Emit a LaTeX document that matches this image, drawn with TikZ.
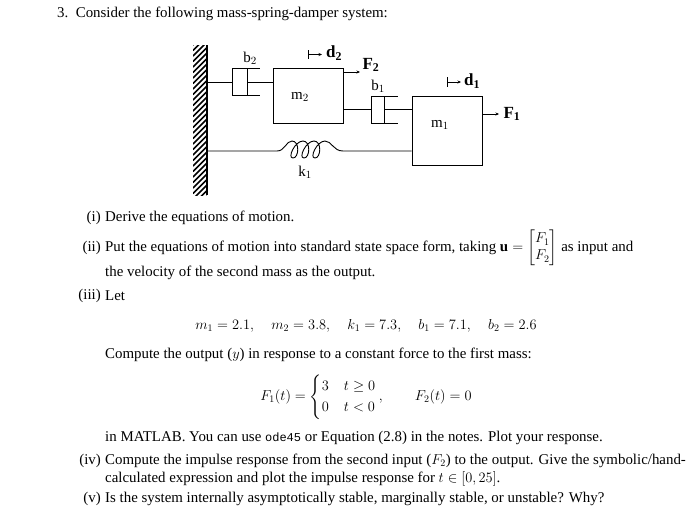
\documentclass[tikz,border=0pt]{standalone}
\usepackage{fontspec}
\setmainfont{Liberation Serif}
\usepackage{amsmath,amssymb}
\usetikzlibrary{arrows.meta}
\begin{document}
\begin{tikzpicture}[x=1pt,y=-1pt,
 ln/.style={line width=0.9pt},
 mass/.style={draw,line width=0.9pt},
 lbl/.style={inner sep=0,font=\fontsize{15}{17}\selectfont},
 txt/.style={anchor=west,inner sep=0,font=\fontsize{14.9}{17}\selectfont},
 num/.style={anchor=east,inner sep=0,font=\fontsize{14.9}{17}\selectfont},
 bl/.style={inner sep=0,font=\bfseries\fontsize{17}{19}\selectfont},
 arr/.style={-{Stealth[length=3.5pt,width=3pt]},line width=0.6pt}]
\useasboundingbox (0,0) rectangle (700,515);
\fill[white] (0,0) rectangle (700,515);
% wall
\begin{scope}
\clip (193,45) rectangle (207,195);
\foreach \i in {0,5.5,...,175} \draw[line width=1.6pt] (193,45+\i) -- (207,31+\i);
\end{scope}
\draw[line width=1.4pt] (207,45) -- (207,195);
\coordinate (w1) at (207,82);
\coordinate (w2) at (207,151);
% masses
\node[mass,minimum width=70,minimum height=55,inner sep=0] (m2) at (308,95.5) {};
\node[lbl] at (300,97) {m$_2$};
\node[mass,minimum width=70,minimum height=69,inner sep=0] (m1) at (447,130.5) {};
\node[lbl] at (440,125) {m$_1$};
% damper b2
\draw[ln] (w1) -- (232,82);
\draw[ln] (232,68) -- (232,95);
\draw[ln] (232,68) -- (260,68) (232,95) -- (260,95);
\draw[ln] (247,68) -- (247,95);
\draw[ln] (247,82) -- (m2.west |- 0,82);
\node[lbl] at (250,58) {b$_2$};
% damper b1
\draw[ln] (m2.east |- 0,109) -- (371,109);
\draw[ln] (371,96) -- (371,123) (371,96) -- (398,96) (371,123) -- (398,123);
\draw[ln] (384,96) -- (384,123);
\draw[ln] (384,109) -- (m1.west |- 0,109);
\node[lbl] at (378,86) {b$_1$};
% spring
\draw[ln] (w2) -- (277,151)
 .. controls (285,151) and (286,141) .. (292,141)
 .. controls (300,141) and (299,158) .. (293,158)
 .. controls (287,158) and (295,141) .. (303,141)
 .. controls (311,141) and (310,158) .. (304,158)
 .. controls (298,158) and (306,141) .. (314,141)
 .. controls (322,141) and (321,158) .. (315,158)
 .. controls (309,158) and (317,141) .. (325,141)
 .. controls (332,141) and (333,151) .. (343,151)
 -- (m1.west |- 0,151);
\node[lbl] at (305,172) {k$_1$};
% displacements and forces
\draw[line width=0.5pt] (308,50) -- (308,59);
\draw[arr] (308,54.5) -- (322,54.5);
\node[bl] at (334,53) {d$_\mathbf{2}$};
\draw[arr] (343,72) -- (360,72);
\node[bl] at (371,65) {F$_\mathbf{2}$};
\draw[line width=0.5pt] (447,77) -- (447,87);
\draw[arr] (447,82) -- (461,82);
\node[bl] at (472,81) {d$_\mathbf{1}$};
\draw[arr] (482,114) -- (499,114);
\node[bl] at (512,114) {F$_\mathbf{1}$};
% text
\node[txt] at (57,14) {3.\ \ Consider the following mass-spring-damper system:};
\node[num] at (101,218) {(i)};
\node[txt] at (105,218) {Derive the equations of motion.};
\node[num] at (101,248) {(ii)};
\node[txt] at (105,248) {Put the equations of motion into standard state space form, taking $\mathbf{u}=\begin{bmatrix}F_1\\F_2\end{bmatrix}$ as input and};
\node[txt] at (105,273) {the velocity of the second mass as the output.};
\node[num] at (101,296) {(iii)};
\node[txt] at (105,296) {Let};
\node[inner sep=0,font=\fontsize{14.9}{17}\selectfont] at (366,326) {$m_1=2.1,\quad m_2=3.8,\quad k_1=7.3,\quad b_1=7.1,\quad b_2=2.6$};
\node[txt] at (105,355) {Compute the output ($y$) in response to a constant force to the first mass:};
\node[inner sep=0,font=\fontsize{14.9}{17}\selectfont] at (366,397) {$F_1(t)=\begin{cases}3 & t\geq 0\\ 0 & t<0\end{cases},\qquad F_2(t)=0$};
\node[txt] at (105,438) {in MATLAB. You can use {\fontspec{Liberation Mono}\fontsize{12}{14}\selectfont ode45} or Equation (2.8) in the notes. Plot your response.};
\node[num] at (101,461) {(iv)};
\node[txt] at (105,461) {Compute the impulse response from the second input ($F_2$) to the output. Give the symbolic/hand-};
\node[txt] at (105,479) {calculated expression and plot the impulse response for $t\in[0,25]$.};
\node[num] at (101,499) {(v)};
\node[txt] at (105,499) {Is the system internally asymptotically stable, marginally stable, or unstable? Why?};
\end{tikzpicture}
\end{document}
